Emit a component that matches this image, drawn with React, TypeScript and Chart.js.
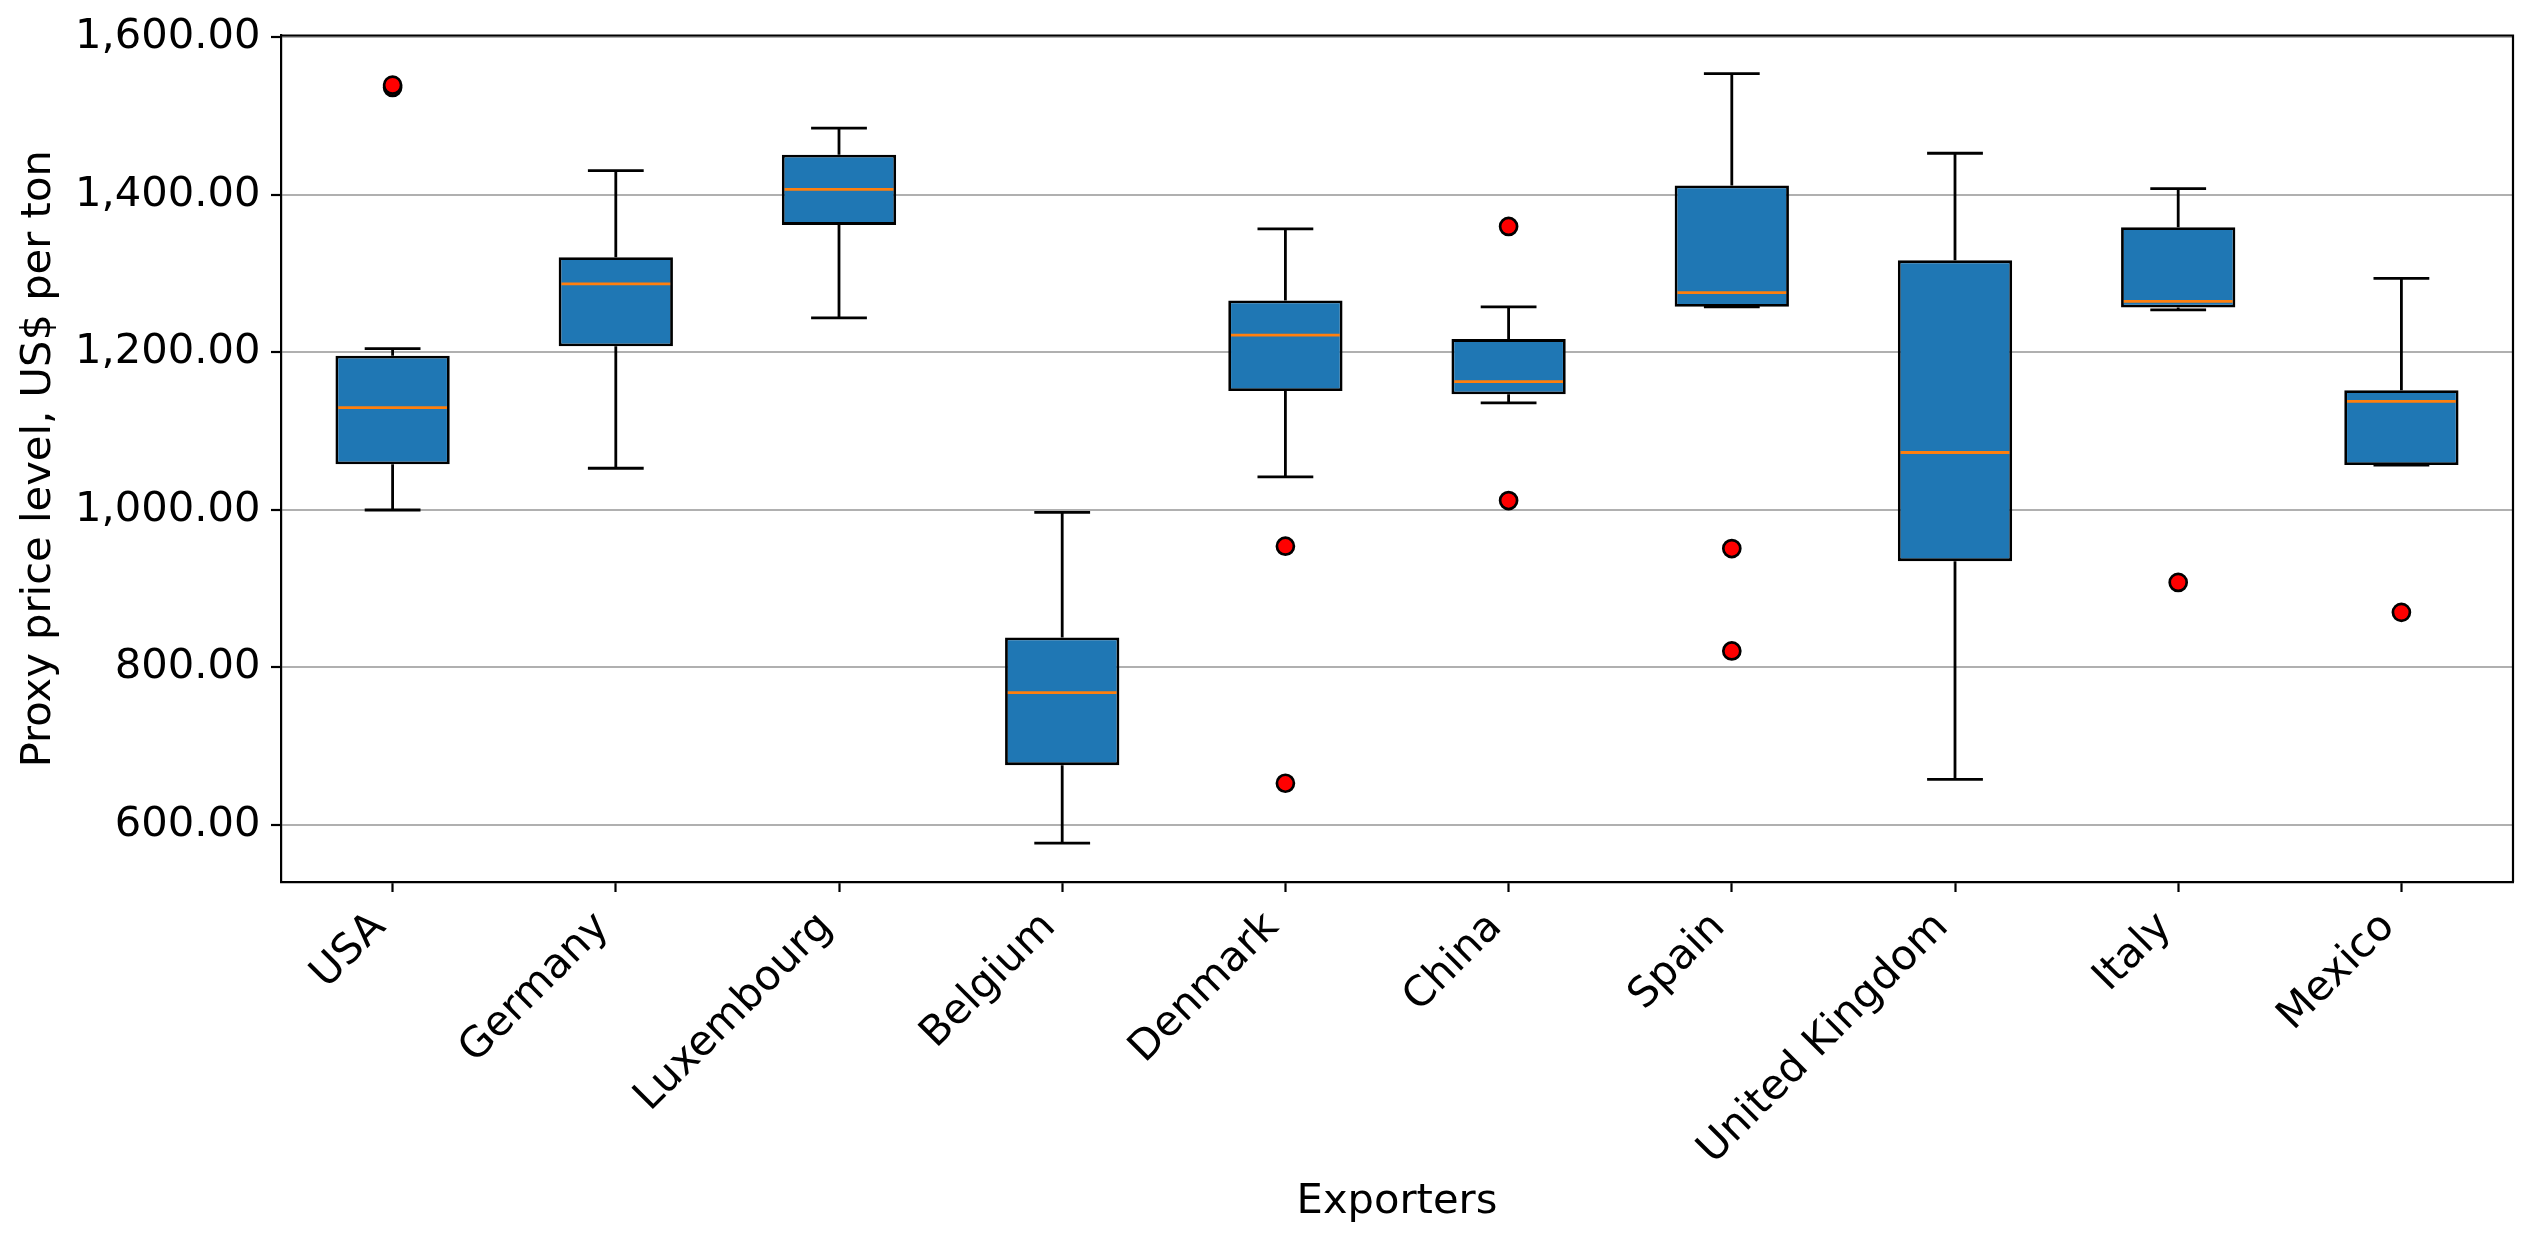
import React, { useEffect, useRef } from "react";
import { Chart, registerables } from "chart.js";

Chart.register(...registerables);

const categories = ["USA", "Germany", "Luxembourg", "Belgium", "Denmark", "China", "Spain", "United Kingdom", "Italy", "Mexico"];
const whiskerLow = [1000, 1053, 1244, 577, 1042, 1136, 1258, 658, 1254, 1057];
const q1 = [1058, 1208, 1362, 676, 1151, 1147, 1258, 935, 1257, 1057];
const median = [1130, 1287, 1407, 768, 1222, 1163, 1276, 1073, 1265, 1138];
const q3 = [1196, 1321, 1451, 838, 1266, 1217, 1412, 1317, 1359, 1152];
const whiskerHigh = [1205, 1431, 1485, 997, 1357, 1258, 1554, 1453, 1408, 1294];
const outlierCountry = ["USA", "USA", "Denmark", "Denmark", "China", "China", "Spain", "Spain", "Italy", "Mexico"];
const outlierValue = [1536.5, 1539.5, 954, 653, 1360, 1012, 951, 821, 908, 870];
const yTicks = [600, 800, 1000, 1200, 1400, 1600];
const yMin = 527.6;
const yMax = 1602.5;

const FONT = "'DejaVu Sans', sans-serif";
const FS = 41.67;

const boxPlugin = {
  id: "boxParts",
  beforeDatasetsDraw(chart: any) {
    const { ctx, scales } = chart;
    const x = scales.x;
    const y = scales.y;
    const cw = (x.right - x.left) / categories.length;
    const capHalf = cw * 0.25 / 2;
    ctx.save();
    ctx.strokeStyle = "#000";
    ctx.lineWidth = 2.8;
    ctx.lineCap = "butt";
    categories.forEach((_, i) => {
      const px = x.getPixelForValue(i);
      const yl = y.getPixelForValue(whiskerLow[i]);
      const yq1 = y.getPixelForValue(q1[i]);
      const yq3 = y.getPixelForValue(q3[i]);
      const yh = y.getPixelForValue(whiskerHigh[i]);
      ctx.beginPath();
      ctx.moveTo(px, yq1);
      ctx.lineTo(px, yl);
      ctx.moveTo(px, yq3);
      ctx.lineTo(px, yh);
      ctx.moveTo(px - capHalf, yl);
      ctx.lineTo(px + capHalf, yl);
      ctx.moveTo(px - capHalf, yh);
      ctx.lineTo(px + capHalf, yh);
      ctx.stroke();
    });
    ctx.restore();
  },
  afterDatasetsDraw(chart: any) {
    const { ctx, scales, chartArea } = chart;
    const x = scales.x;
    const y = scales.y;
    const cw = (x.right - x.left) / categories.length;
    const boxHalf = cw * 0.5 / 2;
    ctx.save();
    ctx.strokeStyle = "#ff7f0e";
    ctx.lineWidth = 2.8;
    categories.forEach((_, i) => {
      const px = x.getPixelForValue(i);
      const ym = y.getPixelForValue(median[i]);
      ctx.beginPath();
      ctx.moveTo(px - boxHalf + 1.4, ym);
      ctx.lineTo(px + boxHalf - 1.4, ym);
      ctx.stroke();
    });
    ctx.strokeStyle = "#000";
    ctx.lineWidth = 2.2;
    ctx.beginPath();
    ctx.moveTo(chartArea.left, chartArea.top);
    ctx.lineTo(chartArea.right, chartArea.top);
    ctx.lineTo(chartArea.right, chartArea.bottom);
    ctx.stroke();
    ctx.restore();
  },
};

export default function App() {
  const ref = useRef<HTMLCanvasElement | null>(null);
  useEffect(() => {
    document.body.style.margin = "0";
    const canvas = ref.current;
    if (!canvas) return;
    const boxes = categories.map((_, i) => [q1[i], q3[i]]);
    const outliers = outlierCountry.map((c, i) => ({ x: c, y: outlierValue[i] }));
    const chart = new Chart(canvas, {
      type: "bar",
      data: {
        labels: categories,
        datasets: [
          {
            type: "line",
            data: outliers as any,
            showLine: false,
            pointStyle: "circle",
            pointRadius: 8.5,
            pointHoverRadius: 8.5,
            pointBackgroundColor: "#ff0000",
            pointBorderColor: "#000",
            pointBorderWidth: 2.7,
            order: 0,
          } as any,
          {
            type: "bar",
            data: boxes as any,
            backgroundColor: "#1f77b4",
            borderColor: "#000",
            borderWidth: 2.8,
            borderSkipped: false,
            barPercentage: 0.512,
            categoryPercentage: 1,
            order: 1,
          } as any,
        ],
      },
      options: {
        responsive: false,
        animation: false,
        devicePixelRatio: 1,
        layout: { padding: { top: 35, right: 21, left: 0, bottom: 0 } },
        plugins: { legend: { display: false }, tooltip: { enabled: false } },
        scales: {
          x: {
            type: "category",
            offset: true,
            grid: {
              offset: false,
              drawOnChartArea: false,
              tickColor: "#000",
              tickLength: 10,
              tickWidth: 2.2,
            },
            border: { display: true, color: "#000", width: 2.2 },
            ticks: {
              autoSkip: false,
              minRotation: 45,
              maxRotation: 45,
              padding: 11,
              labelOffset: -13,
              color: "#000",
              font: { family: FONT, size: FS },
            },
            title: {
              display: true,
              text: "Exporters",
              color: "#000",
              font: { family: FONT, size: FS },
              padding: { top: 0, bottom: 17 },
            },
            afterFit(scale: any) {
              scale.height = 362;
            },
          },
          y: {
            type: "linear",
            min: yMin,
            max: yMax,
            grid: {
              color: "#b0b0b0",
              lineWidth: 2,
              tickColor: "#000",
              tickLength: 10,
              tickWidth: 2.2,
            },
            border: { display: true, color: "#000", width: 2.2 },
            afterBuildTicks(scale: any) {
              scale.ticks = yTicks.map((v) => ({ value: v }));
            },
            ticks: {
              padding: 10.5,
              color: "#000",
              font: { family: FONT, size: FS },
              callback: (v: any) =>
                Number(v).toLocaleString("en-US", { minimumFractionDigits: 2, maximumFractionDigits: 2 }),
            },
            title: {
              display: true,
              text: "Proxy price level, US$ per ton",
              color: "#000",
              font: { family: FONT, size: FS },
              padding: { top: 14, bottom: 0 },
            },
            afterFit(scale: any) {
              scale.width = 281;
            },
          },
        },
      },
      plugins: [boxPlugin],
    });
    return () => chart.destroy();
  }, []);
  return <canvas ref={ref} width={2534} height={1244} style={{ display: "block" }} />;
}
